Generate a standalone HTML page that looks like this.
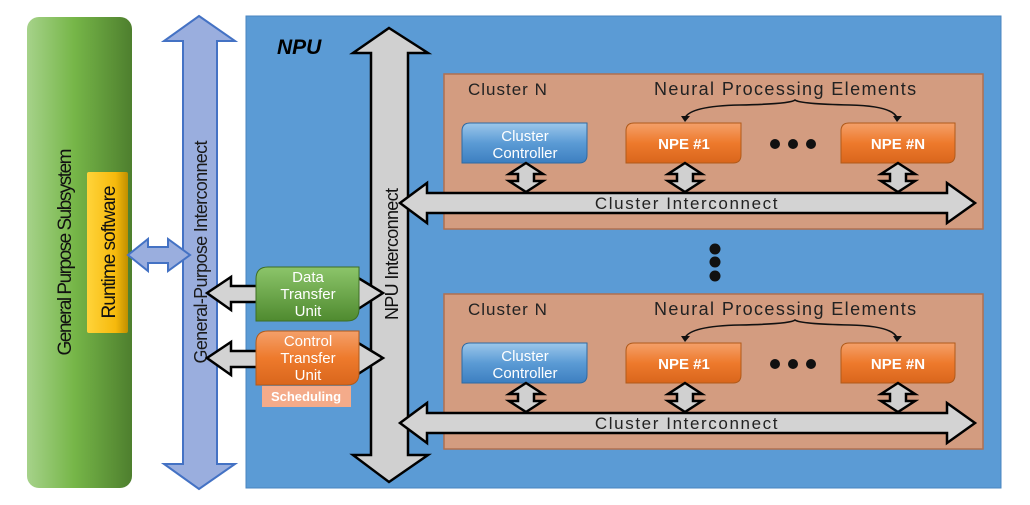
<!DOCTYPE html>
<html><head><meta charset="utf-8"><style>
html,body{margin:0;padding:0;background:#fff;}
svg{display:block;font-family:"Liberation Sans",sans-serif;}
</style></head><body>
<svg width="1030" height="505" viewBox="0 0 1030 505" xmlns="http://www.w3.org/2000/svg">
<defs>
<linearGradient id="gg" x1="0" x2="1" y1="0" y2="0"><stop offset="0" stop-color="#a6d28a"/><stop offset="0.45" stop-color="#76b648"/><stop offset="1" stop-color="#4e7f2e"/></linearGradient>
<linearGradient id="yg" x1="0" x2="1"><stop offset="0" stop-color="#ffd43a"/><stop offset="0.7" stop-color="#f6b90c"/><stop offset="1" stop-color="#c08f00"/></linearGradient>
<linearGradient id="dg" x1="0" x2="0" y1="0" y2="1"><stop offset="0" stop-color="#8cc56a"/><stop offset="1" stop-color="#4f8a2f"/></linearGradient>
<linearGradient id="og" x1="0" x2="0" y1="0" y2="1"><stop offset="0" stop-color="#f4a06a"/><stop offset="0.5" stop-color="#ee7a2c"/><stop offset="1" stop-color="#d9661c"/></linearGradient>
<linearGradient id="bg" x1="0" x2="0" y1="0" y2="1"><stop offset="0" stop-color="#9cc7ea"/><stop offset="0.5" stop-color="#5b9bd5"/><stop offset="1" stop-color="#3d7fc0"/></linearGradient>
<g id="vsm"><path d="M0,0 L17,11 L8,11 L8,18 L17,18 L0,29 L-17,18 L-8,18 L-8,11 L-17,11 Z" fill="#d0d0d0" stroke="#000" stroke-width="2.5"/></g>
<g id="cluster">
<rect x="444" y="74" width="539" height="155" fill="#d39c80" stroke="#b07050" stroke-width="1.5"/>
<text x="468" y="95" font-size="17" letter-spacing="1" fill="#222">Cluster N</text>
<text x="654" y="95" font-size="18" letter-spacing="1.4" fill="#222">Neural Processing Elements</text>
<path d="M685,118 Q690,106 740,105 Q790,104 795,100 Q800,104 850,105 Q893,106 897,118" fill="none" stroke="#111" stroke-width="1.6"/>
<path d="M681,116 L685,122 L690,116 Z M893,116 L897,122 L902,116 Z" fill="#111"/>
<path d="M470,123 H587 V155 Q587,163 579,163 H462 V131 Q462,123 470,123 Z" fill="url(#bg)" stroke="#2e6aa3" stroke-width="1"/>
<text x="525" y="141" font-size="15" fill="#fff" text-anchor="middle">Cluster</text>
<text x="525" y="158" font-size="15" fill="#fff" text-anchor="middle">Controller</text>
<path d="M634,123 H741 V155 Q741,163 733,163 H626 V131 Q626,123 634,123 Z" fill="url(#og)" stroke="#b05a1a" stroke-width="1"/>
<text x="684" y="149" font-size="15" font-weight="bold" fill="#fff" text-anchor="middle">NPE #1</text>
<path d="M849,123 H955 V155 Q955,163 947,163 H841 V131 Q841,123 849,123 Z" fill="url(#og)" stroke="#b05a1a" stroke-width="1"/>
<text x="898" y="149" font-size="15" font-weight="bold" fill="#fff" text-anchor="middle">NPE #N</text>
<circle cx="775" cy="144" r="5" fill="#111"/><circle cx="793" cy="144" r="5" fill="#111"/><circle cx="811" cy="144" r="5" fill="#111"/>
<use href="#vsm" x="526" y="163"/><use href="#vsm" x="685" y="163"/><use href="#vsm" x="898" y="163"/>
<path d="M400,203 L427,183 L427,193 L947,193 L947,183 L975,203 L947,223 L947,213 L427,213 L427,223 Z" fill="#d3d3d3" stroke="#000" stroke-width="2.5"/>
<text x="687" y="209" font-size="17" letter-spacing="1.6" fill="#222" text-anchor="middle">Cluster Interconnect</text>
</g>
</defs>
<rect x="27" y="17" width="105" height="471" rx="12" fill="url(#gg)"/>
<rect x="87" y="172" width="41" height="161" rx="2" fill="url(#yg)"/>
<text transform="translate(71,252) rotate(-90)" font-size="19" text-anchor="middle" textLength="207" fill="#111">General Purpose Subsystem</text>
<text transform="translate(115,252) rotate(-90)" font-size="19" text-anchor="middle" textLength="133" fill="#111">Runtime software</text>
<rect x="246" y="16" width="755" height="472" fill="#5b9bd5" stroke="#4a86c0" stroke-width="1"/>
<path d="M199,16 L235,41 L217,41 L217,464 L235,464 L199,489 L164,464 L183,464 L183,41 L164,41 Z" fill="#9aaede" stroke="#4472c4" stroke-width="2"/>
<text transform="translate(207,252) rotate(-90)" font-size="18" text-anchor="middle" textLength="223" fill="#1a1a1a">General-Purpose Interconnect</text>
<path d="M128,255 L148,239 L148,247 L168,247 L168,239 L190,255 L168,271 L168,263 L148,263 L148,271 Z" fill="#9aaede" stroke="#4472c4" stroke-width="2"/>
<text x="277" y="54" font-size="21" font-weight="bold" font-style="italic" fill="#000">NPU</text>
<path d="M389,28 L428,53 L408,53 L408,455 L428,455 L389,482 L353,455 L371,455 L371,53 L353,53 Z" fill="#d0d0d0" stroke="#000" stroke-width="2.5"/>
<text transform="translate(398,254) rotate(-90)" font-size="18" text-anchor="middle" textLength="132" fill="#111">NPU Interconnect</text>
<path d="M207,293 L231,277 L231,286 L260,286 L260,302 L231,302 L231,310 Z" fill="#d3d3d3" stroke="#000" stroke-width="2.5"/>
<path d="M355,276 L383,293 L355,311 Z" fill="#d3d3d3" stroke="#000" stroke-width="2.5"/>
<path d="M207,358 L231,342 L231,351 L260,351 L260,367 L231,367 L231,375 Z" fill="#d3d3d3" stroke="#000" stroke-width="2.5"/>
<path d="M355,341 L383,358 L355,376 Z" fill="#d3d3d3" stroke="#000" stroke-width="2.5"/>
<path d="M268,267 H359 V309 Q359,321 347,321 H256 V279 Q256,267 268,267 Z" fill="url(#dg)" stroke="#3e6e24" stroke-width="1"/>
<text x="308" y="282" font-size="15" fill="#fff" text-anchor="middle">Data</text>
<text x="308" y="299" font-size="15" fill="#fff" text-anchor="middle">Transfer</text>
<text x="308" y="316" font-size="15" fill="#fff" text-anchor="middle">Unit</text>
<rect x="262" y="386" width="89" height="21" fill="#f4ab8a"/>
<text x="306" y="401" font-size="13" font-weight="bold" fill="#fff" text-anchor="middle">Scheduling</text>
<path d="M268,331 H359 V373 Q359,385 347,385 H256 V343 Q256,331 268,331 Z" fill="url(#og)" stroke="#b05a1a" stroke-width="1"/>
<text x="308" y="346" font-size="15" fill="#fff" text-anchor="middle">Control</text>
<text x="308" y="363" font-size="15" fill="#fff" text-anchor="middle">Transfer</text>
<text x="308" y="380" font-size="15" fill="#fff" text-anchor="middle">Unit</text>
<use href="#cluster"/>
<use href="#cluster" y="220"/>
<circle cx="715" cy="249" r="5.5" fill="#111"/><circle cx="715" cy="262" r="5.5" fill="#111"/><circle cx="715" cy="276" r="5.5" fill="#111"/>
</svg>
</body></html>
